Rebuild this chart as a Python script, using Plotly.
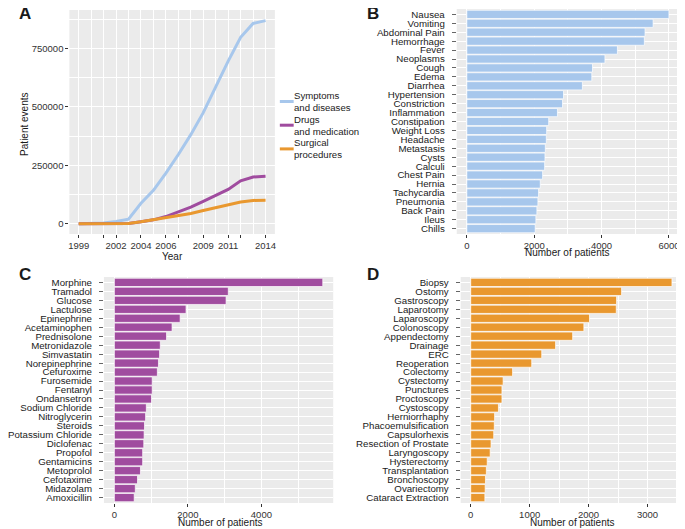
import plotly.graph_objects as go

# ---------------- data ----------------
years = list(range(1999, 2015))
symptoms = [0, 1500, 4000, 10000, 20000, 88000, 143000, 217000, 296000, 381000,
            475000, 585000, 695000, 797000, 856000, 868000]
drugs = [0, 300, 800, 1200, 1500, 9000, 17000, 31000, 50000, 71000,
         96000, 120000, 147000, 184000, 200000, 203000]
surgical = [0, 300, 600, 900, 1500, 8500, 17000, 24000, 33000, 44000,
            57000, 70000, 81000, 93000, 100000, 101000]
series_names = ["Symptoms<br>and diseases", "Drugs<br>and medication", "Surgical<br>procedures"]

a_xtick_vals = [1999, 2001, 2002, 2004, 2006, 2007, 2009, 2011, 2012, 2014]
a_xtick_text = ["1999", "", "2002", "2004", "2006", "", "2009", "2011", "", "2014"]
a_ytick_vals = [0, 250000, 500000, 750000]
a_ytick_text = ["0", "250000", "500000", "750000"]

b_cats = ["Nausea", "Vomiting", "Abdominal Pain", "Hemorrhage", "Fever", "Neoplasms",
          "Cough", "Edema", "Diarrhea", "Hypertension", "Constriction", "Inflammation",
          "Constipation", "Weight Loss", "Headache", "Metastasis", "Cysts", "Calculi",
          "Chest Pain", "Hernia", "Tachycardia", "Pneumonia", "Back Pain", "Ileus", "Chills"]
b_vals = [6000, 5530, 5290, 5270, 4470, 4100, 3730, 3710, 3430, 2870, 2840, 2690,
          2430, 2370, 2360, 2330, 2320, 2310, 2250, 2180, 2130, 2110, 2080, 2050, 2030]

c_cats = ["Morphine", "Tramadol", "Glucose", "Lactulose", "Epinephrine", "Acetaminophen",
          "Prednisolone", "Metronidazole", "Simvastatin", "Norepinephrine", "Cefuroxime",
          "Furosemide", "Fentanyl", "Ondansetron", "Sodium Chloride", "Nitroglycerin",
          "Steroids", "Potassium Chloride", "Diclofenac", "Propofol", "Gentamicins",
          "Metoprolol", "Cefotaxime", "Midazolam", "Amoxicillin"]
c_vals = [5670, 3100, 3040, 1950, 1790, 1570, 1420, 1250, 1230, 1200, 1170,
          1030, 1030, 1010, 870, 850, 820, 810, 800, 770, 770, 710, 630, 570, 540]

d_cats = ["Biopsy", "Ostomy", "Gastroscopy", "Laparotomy", "Laparoscopy", "Colonoscopy",
          "Appendectomy", "Drainage", "ERC", "Reoperation", "Colectomy", "Cystectomy",
          "Punctures", "Proctoscopy", "Cystoscopy", "Herniorrhaphy", "Phacoemulsification",
          "Capsulorhexis", "Resection of Prostate", "Laryngoscopy", "Hysterectomy",
          "Transplantation", "Bronchoscopy", "Ovariectomy", "Cataract Extraction"]
d_vals = [3415, 2560, 2475, 2470, 2015, 1920, 1730, 1440, 1205, 1035, 710, 550,
          530, 530, 470, 405, 400, 390, 345, 330, 280, 265, 250, 245, 240]

# ---------------- style ----------------
OFF = 8                     # page body margin offset
W, H = 685 - OFF, 529 - OFF
FONT = "Liberation Sans, Arial, sans-serif"
BLUE, PURPLE, ORANGE = "#A7C7EC", "#A04C9F", "#E9982F"
BG = "#EBEBEB"
TICKC = "#333333"


def px_x(p):
    return (p - OFF) / W


def px_y(p):
    return 1 - (p - OFF) / H


fig = go.Figure()

# Panel A lines
for vals, col, nm in zip([symptoms, drugs, surgical], [BLUE, PURPLE, ORANGE], series_names):
    fig.add_trace(go.Scatter(x=years, y=vals, mode="lines", name=nm,
                             line=dict(color=col, width=3), xaxis="x", yaxis="y",
                             showlegend=False))

# Bar panels
for cats, vals, col, ax in [(b_cats, b_vals, BLUE, "2"), (c_cats, c_vals, PURPLE, "3"),
                            (d_cats, d_vals, ORANGE, "4")]:
    fig.add_trace(go.Bar(x=vals, y=cats, orientation="h", xaxis="x" + ax, yaxis="y" + ax,
                         marker=dict(color=col, line=dict(color="white", width=0.7)),
                         showlegend=False))

common_tick = dict(ticks="outside", ticklen=3, tickwidth=1, tickcolor=TICKC,
                   tickfont=dict(family=FONT, size=9.5, color=TICKC),
                   showline=False, zeroline=False, gridcolor="white", gridwidth=1.1)

# Domains (pixel based, reference screen pixels)
A_dom_x = [px_x(63), px_x(271)]
A_dom_y = [px_y(234), px_y(10)]
B_dom_x = [px_x(455), px_x(680)]
C_dom_x = [px_x(98), px_x(330)]
D_dom_x = [px_x(459), px_x(683)]
top_dom_y = [px_y(234), px_y(9)]
bot_dom_y = [px_y(503), px_y(277)]


def bar_axes(dom_x, dom_y, cats, maxv, dtick, anchor_x, anchor_y):
    xa = dict(domain=dom_x, anchor=anchor_y, range=[-0.05 * maxv, 1.05 * maxv],
              dtick=dtick, tick0=0,
              minor=dict(dtick=dtick / 2, tick0=0, showgrid=True, gridcolor="white",
                         gridwidth=0.5, ticks=""),
              **common_tick)
    ya = dict(domain=dom_y, anchor=anchor_x, range=[24.6, -0.6], type="category",
              tickmode="array", tickvals=cats, ticktext=cats,
              ticks="outside", ticklen=4, tickwidth=1, tickcolor="#666666",
              tickfont=dict(family=FONT, size=9.7, color="#1a1a1a"),
              ticklabelstandoff=5,
              showline=False, zeroline=False, showgrid=True, gridcolor="white", gridwidth=1.1)
    return xa, ya


xa2, ya2 = bar_axes(B_dom_x, top_dom_y, b_cats, max(b_vals), 2000, "x2", "y2")
xa3, ya3 = bar_axes(C_dom_x, bot_dom_y, c_cats, max(c_vals), 2000, "x3", "y3")
xa4, ya4 = bar_axes(D_dom_x, bot_dom_y, d_cats, max(d_vals), 1000, "x4", "y4")

fig.update_layout(
    width=W, height=H, autosize=False,
    margin=dict(l=0, r=0, t=0, b=0),
    paper_bgcolor="white", plot_bgcolor=BG,
    bargap=0.08,
    font=dict(family=FONT, size=10, color=TICKC),
    showlegend=False,
    xaxis=dict(domain=A_dom_x, anchor="y", range=[1998.25, 2014.75],
               tickmode="array", tickvals=a_xtick_vals, ticktext=a_xtick_text,
               minor=dict(dtick=1, tick0=1999, showgrid=True, gridcolor="white",
                          gridwidth=0.8, ticks=""),
               **common_tick),
    yaxis=dict(domain=A_dom_y, anchor="x", range=[-43500, 913500],
               tickmode="array", tickvals=a_ytick_vals, ticktext=a_ytick_text,
               minor=dict(dtick=125000, tick0=0, showgrid=True, gridcolor="white",
                          gridwidth=0.5, ticks=""),
               **common_tick),
    xaxis2=xa2, yaxis2=ya2, xaxis3=xa3, yaxis3=ya3, xaxis4=xa4, yaxis4=ya4,
)

annotations = []
# panel letters
for letter, x, y in [("A", 18, 14), ("B", 370, 14), ("C", 18, 274), ("D", 370, 274)]:
    annotations.append(dict(text="<b>%s</b>" % letter, x=px_x(x), y=px_y(y), xref="paper",
                            yref="paper", xanchor="center", yanchor="middle", showarrow=False,
                            font=dict(family=FONT, size=17, color="#1a1a1a")))
# axis titles
for txt, x, y, ang in [("Year", 167, 257, 0), ("Patient events", 18, 124, -90),
                       ("Number of patients", 567, 253, 0),
                       ("Number of patients", 216, 522, 0),
                       ("Number of patients", 572, 522, 0)]:
    annotations.append(dict(text=txt, x=px_x(x), y=px_y(y), xref="paper", yref="paper",
                            xanchor="center", yanchor="middle", showarrow=False, textangle=ang,
                            font=dict(family=FONT, size=10, color="#1a1a1a")))

# manual legend for panel A
shapes = []
for i, (nm, col) in enumerate(zip(series_names, [BLUE, PURPLE, ORANGE])):
    yc = 101.5 + i * 23.7
    shapes.append(dict(type="line", xref="paper", yref="paper",
                       x0=px_x(276), x1=px_x(290), y0=px_y(yc), y1=px_y(yc),
                       line=dict(color=col, width=3)))
    annotations.append(dict(text=nm, x=px_x(288), y=px_y(yc), xref="paper", yref="paper",
                            xanchor="left", yanchor="middle", align="left", showarrow=False,
                            font=dict(family=FONT, size=9.6, color="#1a1a1a")))

fig.update_layout(annotations=annotations, shapes=shapes)
fig.write_html("out.html")
